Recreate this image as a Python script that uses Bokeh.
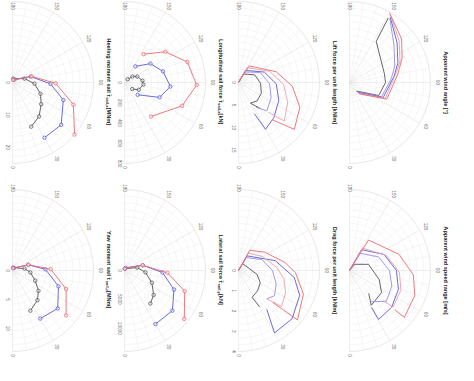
import numpy as np
from bokeh.plotting import figure
from bokeh.layouts import gridplot
from bokeh.models import Range1d
from bokeh.embed import file_html
from bokeh.resources import INLINE
from bokeh.core.properties import value

# ---------------- data (theta in degrees, r in panel units) ----------------
ANGLE_TICKS = [0, 30, 60, 90, 120, 150, 180]

# Heeling moment sail [MNm]
heel_rmax = 25
heel_rticks = [0, 10, 20]
heel_black_t = [170, 108, 87, 68, 53, 38, 23]
heel_black_r = [1.2, 3.9, 6.8, 9.3, 11.1, 13.3, 14.8]
heel_blue_t = [146, 108, 88, 71, 49, 30]
heel_blue_r = [1.1, 5.9, 11.7, 16.6, 19.9, 19.7]
heel_red_t = [170, 108, 89, 70, 50]
heel_red_r = [0.8, 6.2, 13.3, 20.0, 25.0]

# Yaw moment sail [MNm]
yaw_rmax = 14
yaw_rticks = [0, 5, 10]
yaw_black_t = [170, 99, 84, 66, 52, 40, 24]
yaw_black_r = [0.5, 2.1, 3.1, 4.3, 5.7, 6.7, 7.6]
yaw_blue_t = [150, 110, 92, 71, 50, 30]
yaw_blue_r = [0.5, 2.9, 5.7, 8.4, 10.2, 9.6]
yaw_red_t = [170, 110, 92, 71, 50]
yaw_red_r = [0.4, 2.9, 6.6, 9.8, 12.1]

# Longitudinal sail force [kN]
lon_rmax = 800
lon_rticks = [0, 200, 400, 600, 800]
lon_black_t = [135, 127, 115, 96, 84, 63, 50]
lon_black_r = [45, 99, 139, 178, 188, 158, 100]
lon_blue_t = [146, 126, 106, 85, 67, 47]
lon_blue_r = [192, 317, 396, 455, 376, 178]
lon_red_t = [146, 127, 108, 88, 68, 38]
lon_red_r = [337, 505, 653, 713, 614, 426]

# Lateral sail force [kN]
lat_rmax = 14000
lat_rticks = [0, 5000, 10000]
lat_black_t = [170, 103, 85, 66, 50, 38]
lat_black_r = [300, 2250, 3630, 5180, 6570, 7260]
lat_blue_t = [160, 106, 87, 69, 50, 30]
lat_blue_r = [500, 3280, 6570, 9160, 10800, 10700]
lat_red_t = [170, 106, 87, 71, 51]
lat_red_r = [300, 3280, 7430, 11000, 13300]

# Lift force per unit length [kN/m]
lift_rmax = 18
lift_rticks = [0, 5, 10, 15]
lift_red_t = [180, 147, 106, 86, 68, 50, 42]
lift_red_r = [0, 4.4, 8.7, 12.0, 14.7, 16.2, 11.1]
lift_pink_t = [180, 150, 110, 88, 68, 50, 45]
lift_pink_r = [0, 3.8, 7.3, 10.0, 11.8, 13.3, 9.3]
lift_blue_t = [180, 150, 112, 88, 66, 45, 30, 27]
lift_blue_r = [0, 3.1, 6.2, 8.4, 9.8, 11.1, 12.0, 7.8]
lift_lblue_t = [180, 150, 115, 88, 65, 45, 35]
lift_lblue_r = [0, 2.7, 5.3, 6.9, 8.0, 8.9, 6.7]
lift_black_t = [180, 150, 115, 88, 65, 45, 30, 40]
lift_black_r = [0, 2.2, 4.0, 4.9, 5.6, 5.8, 5.3, 7.6]

# Drag force per unit length [kN/m]
drag_rmax = 4
drag_rticks = [0, 1, 2, 3, 4]
drag_red_t = [180, 151, 125, 100, 88, 70, 50, 47]
drag_red_r = [0, 1.14, 1.58, 2.32, 2.81, 3.41, 3.80, 2.32]
drag_pink_t = [180, 150, 120, 95, 80, 65, 50, 45]
drag_pink_r = [0, 0.99, 1.38, 1.88, 2.27, 2.57, 2.77, 1.98]
drag_blue_t = [180, 149, 105, 83, 68, 48, 30, 36]
drag_blue_r = [0, 0.84, 1.88, 2.77, 3.26, 3.56, 3.56, 2.37]
drag_lblue_t = [180, 150, 115, 90, 70, 55, 45]
drag_lblue_r = [0, 0.74, 1.28, 1.68, 1.98, 2.17, 1.98]
drag_black_t = [180, 150, 78, 61, 43, 27, 30]
drag_black_r = [0, 0.40, 0.94, 1.23, 1.38, 1.48, 2.07]

# Apparent wind angle [deg]
awa_rmax = 180
awa_rticks = []
awa_black_t = [38, 66, 90, 104, 147, 149]
awa_black_r = [24, 71, 80, 80, 109, 167]
awa_lblue_t = [40, 66, 95, 110, 130, 148]
awa_lblue_r = [27, 78, 93, 107, 129, 169]
awa_blue_t = [40, 66, 98, 112, 130, 148]
awa_blue_r = [29, 82, 100, 116, 138, 171]
awa_pink_t = [40, 66, 100, 113, 130, 149]
awa_pink_r = [31, 87, 104, 122, 144, 176]
awa_red_t = [40, 66, 100, 115, 130, 150]
awa_red_r = [33, 91, 109, 129, 151, 178]

# Apparent wind speed range [m/s]
aws_rmax = 30
aws_rticks = []
aws_red_t = [180, 148, 108, 86, 69, 49.5, 49]
aws_red_r = [0, 13.3, 19.3, 23.7, 25.9, 26.7, 22.2]
aws_pink_t = [180, 150, 112, 88, 69, 50, 48]
aws_pink_r = [0, 9.6, 14.8, 18.5, 20.4, 21.1, 16.7]
aws_blue_t = [180, 150, 115, 90, 69, 49, 30.6, 31]
aws_blue_r = [0, 8.9, 14.1, 17.4, 19.4, 20.7, 21.1, 15.9]
aws_lblue_t = [180, 150, 115, 90, 70, 50, 35]
aws_lblue_r = [0, 7.4, 11.9, 14.8, 16.7, 17.8, 14.1]
aws_black_t = [180, 140, 108, 73, 55.5, 32, 40]
aws_black_r = [0, 3.0, 7.4, 11.5, 14.4, 15.2, 11.1]

# ---------------- styling / layout ----------------
RED = "#ec6a6e"
PINK = "#eaa0ac"
BLUE = "#5a5ad8"
LBLUE = "#9590e8"
BLACK = "#555555"
GRID = "#f0f0f0"
GRID_MAJ = "#e2e2e2"
TXT = "#666666"
FONT = value("Liberation Sans")

R_PX = 81.0
PAGE_X = [8, 122, 236, 350]
COL_W = [114, 114, 114, 116]
PAGE_Y = [8, 190]
ROW_H = [182, 182]
ORIG_X = [20, 132, 246, 357]
ORIG_Y = [90, 278]

SUB_W = {'s': .556, 'a': .556, 'i': .278, 'l': .278, ',': .278, 'x': .556, 'y': .556, 'z': .5}


def text_w(s, fs):
    w = {' ': .278, '[': .333, ']': .333, '/': .278, 'M': .833, 'N': .722, 'k': .556, 'm': .889,
         'H': .722, 'L': .611, 'Y': .667, 'A': .722, 'D': .722, 'i': .278, 'l': .278, 'f': .333,
         't': .333, 'r': .389, 'g': .611, 'n': .611, 'o': .611, 'u': .611, 'd': .611, 'p': .611,
         'e': .556, 's': .556, 'a': .556, 'c': .556, 'w': .778, 'x': .556, 'y': .556, 'z': .5,
         'τ': .5, '\u0303': 0, ',': .278, '°': .4}
    return sum(w.get(ch, .56) for ch in s) * fs


def polar_xy(t, r):
    t = np.radians(np.asarray(t, dtype=float))
    r = np.asarray(r, dtype=float)
    return r * np.sin(t), -r * np.cos(t)


def make_panel(col, row, title, rmax, rticks, series, markers):
    W, H = COL_W[col], ROW_H[row]
    fl, ft = PAGE_X[col], PAGE_Y[row]
    ox, oy = ORIG_X[col], ORIG_Y[row]
    k = R_PX / rmax
    p = figure(width=W, height=H,
               x_range=Range1d((fl - ox) / k, (fl + W - ox) / k),
               y_range=Range1d((oy - ft - H) / k, (oy - ft) / k),
               output_backend="svg", toolbar_location=None, min_border=0)
    p.axis.visible = False
    p.grid.visible = False
    p.outline_line_color = None

    # polar grid (fine, very light)
    radii = [rmax * j / 12.0 for j in range(1, 12)]
    p.arc(x=[0] * len(radii), y=[0] * len(radii), radius=radii,
          start_angle=-np.pi / 2, end_angle=np.pi / 2, line_color=GRID, line_width=0.6)
    spokes = [a for a in range(0, 181, 10) if a % 30]
    sx, sy = polar_xy(spokes, [rmax] * len(spokes))
    p.segment(x0=[0] * len(spokes), y0=[0] * len(spokes), x1=sx, y1=sy,
              line_color=GRID, line_width=0.6)
    majt = [30, 60, 90, 120, 150]
    mx, my = polar_xy(majt, [rmax] * len(majt))
    p.segment(x0=[0] * 5, y0=[0] * 5, x1=mx, y1=my, line_color=GRID_MAJ, line_width=0.6)
    p.arc(x=[0], y=[0], radius=[rmax], start_angle=-np.pi / 2, end_angle=np.pi / 2,
          line_color=GRID_MAJ, line_width=0.8)
    p.segment(x0=[0], y0=[-rmax], x1=[0], y1=[rmax], line_color=GRID_MAJ, line_width=0.6)

    # angle labels
    lab_r = []
    for a in ANGLE_TICKS:
        if a in (0, 180):
            rr = 85.0
            if a == 180:
                rr = min(rr, oy - ft - 5.5)
            lab_r.append(rr / k)
        else:
            lab_r.append(88.0 / k)
    lx, ly = polar_xy(ANGLE_TICKS, lab_r)
    p.text(x=lx, y=ly, text=[str(a) for a in ANGLE_TICKS], angle=-np.pi / 2,
           text_font=FONT, text_font_size="4.6px", text_color=TXT,
           text_align="center", text_baseline="middle")

    # radial labels
    if rticks:
        p.text(x=[-5.0 / k] * len(rticks), y=[-v for v in rticks], text=[str(v) for v in rticks],
               angle=-np.pi / 2, text_font=FONT, text_font_size="4.6px", text_color=TXT,
               text_align="center", text_baseline="middle")

    # series
    for (t, r, c) in series:
        x, y = polar_xy(t, r)
        p.line(x=x, y=y, line_color=c, line_width=0.9)
        if markers:
            p.scatter(x=x, y=y, marker="circle", size=3.4, line_color=c, line_width=0.8,
                      fill_color="white", fill_alpha=0.5)

    # title (rotated, reading downwards)
    fs, fss = 5.6, 4.2
    tx = 96.0 / k
    tcol = "#222222"
    if isinstance(title, str):
        p.text(x=[tx], y=[0], text=[title], angle=-np.pi / 2, text_font=FONT,
               text_font_size=f"{fs}px", text_font_style="bold", text_color=tcol,
               text_align="center", text_baseline="middle")
    else:
        a, b, c = title
        wa, wb, wc = text_w(a, fs), sum(SUB_W.get(ch, .5) for ch in b) * fss, text_w(c, fs)
        total = wa + wb + wc
        start = -total / 2.0
        p.text(x=[tx], y=[-start / k], text=[a], angle=-np.pi / 2, text_font=FONT,
               text_font_size=f"{fs}px", text_font_style="bold", text_color=tcol,
               text_align="left", text_baseline="middle")
        p.text(x=[tx - 1.4 / k], y=[-(start + wa) / k], text=[b], angle=-np.pi / 2, text_font=FONT,
               text_font_size=f"{fss}px", text_font_style="bold", text_color=tcol,
               text_align="left", text_baseline="middle")
        p.text(x=[tx], y=[-(start + wa + wb) / k], text=[c], angle=-np.pi / 2, text_font=FONT,
               text_font_size=f"{fs}px", text_font_style="bold", text_color=tcol,
               text_align="left", text_baseline="middle")
    return p


TAU = "τ\u0303"
pA = make_panel(0, 0, ("Heeling moment sail " + TAU, "sail,x", " [MNm]"), heel_rmax, heel_rticks,
                [(heel_black_t, heel_black_r, BLACK), (heel_blue_t, heel_blue_r, BLUE),
                 (heel_red_t, heel_red_r, RED)], True)
pB = make_panel(0, 1, ("Yaw moment sail " + TAU, "sail,z", " [MNm]"), yaw_rmax, yaw_rticks,
                [(yaw_black_t, yaw_black_r, BLACK), (yaw_blue_t, yaw_blue_r, BLUE),
                 (yaw_red_t, yaw_red_r, RED)], True)
pC = make_panel(1, 0, ("Longitudinal sail force " + TAU, "sail,x", " [kN]"), lon_rmax, lon_rticks,
                [(lon_black_t, lon_black_r, BLACK), (lon_blue_t, lon_blue_r, BLUE),
                 (lon_red_t, lon_red_r, RED)], True)
pD = make_panel(1, 1, ("Lateral sail force " + TAU, "sail,y", " [kN]"), lat_rmax, lat_rticks,
                [(lat_black_t, lat_black_r, BLACK), (lat_blue_t, lat_blue_r, BLUE),
                 (lat_red_t, lat_red_r, RED)], True)
pE = make_panel(2, 0, "Lift force per unit length [kN/m]", lift_rmax, lift_rticks,
                [(lift_black_t, lift_black_r, BLACK), (lift_lblue_t, lift_lblue_r, LBLUE),
                 (lift_blue_t, lift_blue_r, BLUE), (lift_pink_t, lift_pink_r, PINK),
                 (lift_red_t, lift_red_r, RED)], False)
pF = make_panel(2, 1, "Drag force per unit length [kN/m]", drag_rmax, drag_rticks,
                [(drag_black_t, drag_black_r, BLACK), (drag_lblue_t, drag_lblue_r, LBLUE),
                 (drag_blue_t, drag_blue_r, BLUE), (drag_pink_t, drag_pink_r, PINK),
                 (drag_red_t, drag_red_r, RED)], False)
pG = make_panel(3, 0, "Apparent wind angle [°]", awa_rmax, awa_rticks,
                [(awa_black_t, awa_black_r, BLACK), (awa_lblue_t, awa_lblue_r, LBLUE),
                 (awa_blue_t, awa_blue_r, BLUE), (awa_pink_t, awa_pink_r, PINK),
                 (awa_red_t, awa_red_r, RED)], False)
pH = make_panel(3, 1, "Apparent wind speed range [m/s]", aws_rmax, aws_rticks,
                [(aws_black_t, aws_black_r, BLACK), (aws_lblue_t, aws_lblue_r, LBLUE),
                 (aws_blue_t, aws_blue_r, BLUE), (aws_pink_t, aws_pink_r, PINK),
                 (aws_red_t, aws_red_r, RED)], False)

grid = gridplot([[pA, pC, pE, pG], [pB, pD, pF, pH]], toolbar_location=None)

open("out.html", "w").write(file_html(grid, INLINE))
